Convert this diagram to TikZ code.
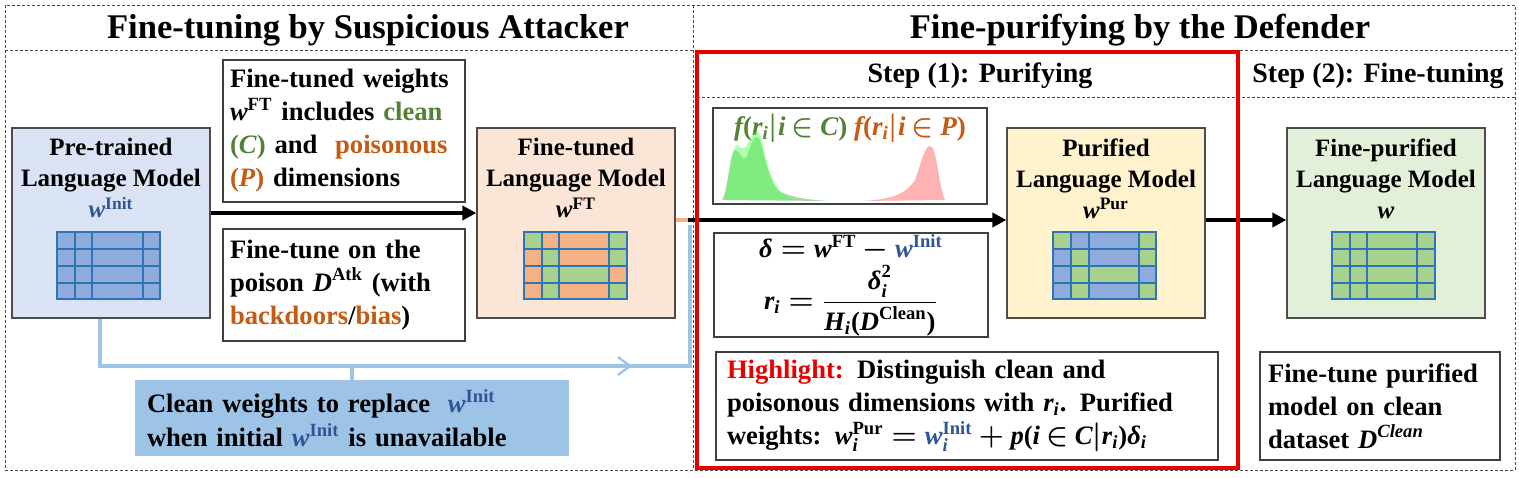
\documentclass[tikz,border=0pt]{standalone}
\usepackage{amsmath,bm}
\usepackage{fontspec}
\setmainfont{Liberation Serif}
\usetikzlibrary{arrows.meta}
\definecolor{cg}{RGB}{84,130,53}
\definecolor{co}{RGB}{197,90,17}
\definecolor{cbl}{RGB}{47,85,151}
\definecolor{gblue}{RGB}{143,170,220}
\definecolor{ggreen}{RGB}{169,209,142}
\definecolor{gorange}{RGB}{244,177,131}
\definecolor{gline}{RGB}{46,117,182}
\definecolor{lblue}{RGB}{157,195,230}
\definecolor{fpre}{RGB}{218,227,243}
\definecolor{fft}{RGB}{251,229,214}
\definecolor{fpur}{RGB}{255,242,204}
\definecolor{ffp}{RGB}{226,240,217}
\definecolor{hred}{RGB}{230,0,0}
\newcommand{\tm}[1]{\text{\bfseries\itshape #1}}
\newcommand{\tu}[1]{\text{\bfseries #1}}
\newcommand{\inn}{\mathbin{\bm{\in}}}
\newcommand{\G}[1]{\textcolor{cg}{#1}}
\newcommand{\Or}[1]{\textcolor{co}{#1}}
\newcommand{\Bl}[1]{\textcolor{cbl}{#1}}
\newcommand{\winit}{\Bl{$\tm{w}^{\tu{Init}}$}}
\newcommand{\gridrows}[1]{%
  \foreach \ya/\yb/\pa/\pb/\pc/\pd in {#1}{%
    \fill[\pa] (\xa,\ya) rectangle (\xb,\yb);
    \fill[\pb] (\xb,\ya) rectangle (\xc,\yb);
    \fill[\pc] (\xc,\ya) rectangle (\xd,\yb);
    \fill[\pd] (\xd,\ya) rectangle (\xe,\yb);
  }
  \draw[cell] (\xa,232) rectangle (\xe,299);
  \foreach \xx in {\xb,\xc,\xd} \draw[cell] (\xx,232) -- (\xx,299);
  \foreach \yy in {249,266,283} \draw[cell] (\xa,\yy) -- (\xe,\yy);
}
\tikzset{
  frame/.style={draw=black!70, dash pattern=on 1.5pt off 1pt, line width=0.4pt},
  tbox/.style={draw=black!75, line width=0.6pt, fill=white, align=left, inner sep=0pt, font=\fontsize{13.3}{16.5}\selectfont\bfseries},
  mbox/.style={draw=black!70, line width=0.6pt, minimum width=99pt, minimum height=95pt},
  mtitle/.style={align=center, anchor=north, inner sep=0pt, font=\fontsize{12.5}{15.5}\selectfont\bfseries},
  garrow/.style={line width=2pt, -{Triangle[length=7pt,width=7pt]}},
  cell/.style={draw=gline, line width=0.6pt},
  ttl/.style={font=\fontsize{17.3}{20}\selectfont\bfseries},
  stp/.style={font=\fontsize{14}{16}\selectfont\bfseries},
  bluel/.style={draw=lblue, line width=1.6pt}
}
\begin{document}
\begin{tikzpicture}[x=0.5pt,y=-0.5pt]
\useasboundingbox (0,0) rectangle (1519,477);
% frames
\draw[frame] (5,5) rectangle (1515,470);
\draw[frame] (5,50) -- (1515,50);
\draw[frame] (693,5) -- (693,470);
\draw[frame] (697,97) -- (1515,97);
\draw[frame] (1238,52) -- (1238,470);
\node[ttl] (t1) at (368,30) {Fine-tuning by Suspicious Attacker};
\node[ttl] (t2) at (1140,30) {Fine-purifying by the Defender};
\node[stp] (s1) at (980,76) {Step (1): Purifying};
\node[stp] (s2) at (1378,76) {Step (2): Fine-tuning};
% model boxes
\node[mbox, fill=fpre] (pre) at (111,223) {};
\node[mtitle] at (111,138) {Pre-trained\\Language Model\\\winit};
\node[mbox, fill=fft] (ft) at (576,223) {};
\node[mtitle] at (576,138) {Fine-tuned\\Language Model\\$\tm{w}^{\tu{FT}}$};
\node[mbox, fill=fpur] (pur) at (1106,223) {};
\node[mtitle] at (1106,138) {Purified\\Language Model\\$\tm{w}^{\tu{Pur}}$};
\node[mbox, fill=ffp] (fp) at (1386,223) {};
\node[mtitle] at (1386,138) {Fine-purified\\Language Model\\\tm{w}};
% grids
\def\xa{57}\def\xb{75}\def\xc{92}\def\xd{143}\def\xe{160}
\gridrows{232/249/gblue/gblue/gblue/gblue,249/266/gblue/gblue/gblue/gblue,266/283/gblue/gblue/gblue/gblue,283/299/gblue/gblue/gblue/gblue}
\def\xa{524}\def\xb{542}\def\xc{559}\def\xd{609}\def\xe{627}
\gridrows{232/249/ggreen/gorange/gorange/ggreen,249/266/gorange/ggreen/gorange/ggreen,266/283/gorange/ggreen/ggreen/gorange,283/299/gorange/ggreen/gorange/ggreen}
\def\xa{1053}\def\xb{1071}\def\xc{1089}\def\xd{1139}\def\xe{1156}
\gridrows{232/249/ggreen/gblue/gblue/ggreen,249/266/gblue/ggreen/gblue/ggreen,266/283/gblue/ggreen/ggreen/gblue,283/299/gblue/ggreen/gblue/ggreen}
\def\xa{1332}\def\xb{1350}\def\xc{1367}\def\xd{1417}\def\xe{1435}
\gridrows{232/249/ggreen/ggreen/ggreen/ggreen,249/266/ggreen/ggreen/ggreen/ggreen,266/283/ggreen/ggreen/ggreen/ggreen,283/299/ggreen/ggreen/ggreen/ggreen}
% text boxes
\node[tbox, minimum width=121pt, minimum height=71pt, text width=114pt] (b1) at (344,131)
 {Fine-tuned weights\\$\tm{w}^{\tu{FT}}$ includes \G{clean}\\\G{(\textit{C})} and \ \Or{poisonous}\\\Or{(\textit{P})} dimensions};
\node[tbox, minimum width=121pt, minimum height=56pt, text width=114pt] (b2) at (344,285)
 {Fine-tune on the\\poison $\tm{D}^{\tu{Atk}}$ (with\\\Or{backdoors}/\Or{bias})};
\node[tbox, minimum width=137pt, minimum height=48pt] (dist) at (850,156) {};
\node[tbox, minimum width=137pt, minimum height=52pt, align=center] (form) at (851,285)
 {$\tm{δ}\bm{=}\tm{w}^{\tu{FT}}\bm{-}\textcolor{cbl}{\tm{w}^{\tu{Init}}}$\\[1pt]
  $\tm{r}_{\tm{i}}\bm{=}\dfrac{\tm{δ}_{\tm{i}}^{\tu{2}}}{\tm{H}_{\tm{i}}\tu{(}\tm{D}^{\tu{Clean}}\tu{)}}$};
\node[tbox, minimum width=251pt, minimum height=54pt, text width=240pt] (hl) at (967,406)
 {\textcolor{hred}{Highlight:} Distinguish clean and\\poisonous dimensions with $\tm{r}_{\tm{i}}$. Purified\\weights: $\tm{w}_{\tm{i}}^{\tu{Pur}}\bm{=}\textcolor{cbl}{\tm{w}_{\tm{i}}^{\tu{Init}}}\bm{+}\tm{p}\tu{(}\tm{i}\inn\tm{C}\bm{|}\tm{r}_{\tm{i}}\tu{)}\tm{δ}_{\tm{i}}$};
\node[tbox, minimum width=120pt, minimum height=54pt, text width=112pt] (s2b) at (1380,406)
 {Fine-tune purified\\model on clean\\dataset $\tm{D}^{\tm{Clean}}$};
% distribution
\node[font=\fontsize{13.5}{15}\selectfont\bfseries, inner sep=0pt] (dl) at (850,128)
 {\G{$\tm{f}\tu{(}\tm{r}_{\tm{i}}\bm{|}\tm{i}\inn\tm{C}\tu{)}$} \Or{$\tm{f}\tu{(}\tm{r}_{\tm{i}}\bm{|}\tm{i}\inn\tm{P}\tu{)}$}};
\fill[green!60!black, opacity=0.35] (722,200) .. controls (728,190) and (730,150) .. (735,150) .. controls (740,150) and (742,162) .. (746,158) .. controls (750,150) and (752,137) .. (757,137) .. controls (763,137) and (765,180) .. (780,192) .. controls (795,198) and (810,200) .. (830,201) -- cycle;
\fill[green!70, opacity=0.45] (725,200) .. controls (730,180) and (732,142) .. (738,145) .. controls (742,150) and (745,150) .. (750,140) .. controls (756,128) and (760,128) .. (764,150) .. controls (770,180) and (780,200) .. (800,200) -- cycle;
\fill[red!55, opacity=0.55] (860,201) .. controls (890,200) and (905,195) .. (915,180) .. controls (922,160) and (925,146) .. (930,146) .. controls (937,146) and (938,185) .. (945,200) -- cycle;
% arrows
\draw[garrow] (pre.east |- 0,213) -- (ft.west |- 0,213);
\draw[gorange, line width=2pt] (ft.east |- 0,220) -- (688,220);
\coordinate (j) at (688,220);
\draw[garrow] (j) -- (pur.west |- 0,220);
\draw[garrow] (pur.east |- 0,220) -- (fp.west |- 0,220);
% blue connector
\coordinate (c1) at (100,366);
\coordinate (c2) at (632,366);
\coordinate (c3) at (690,366);
\node[draw=none, fill=lblue, minimum width=217pt, minimum height=38pt, text width=205pt, align=left, inner sep=0pt,
  font=\fontsize{13.3}{17}\selectfont\bfseries] (cw) at (352,418)
 {Clean weights to replace \ \winit\\when initial \winit\ is unavailable};
\draw[bluel] (pre.south -| c1) -- (c1) -- (c3) -- (690,225);
\draw[lblue, line width=1.2pt, -{Straight Barb[length=6pt,width=9pt]}] (600,366) -- (c2);
\draw[bluel] (352,366) -- (cw.north);
% red box
\draw[hred, line width=1.8pt] (697,52) rectangle (1238,468);
\end{tikzpicture}
\end{document}
